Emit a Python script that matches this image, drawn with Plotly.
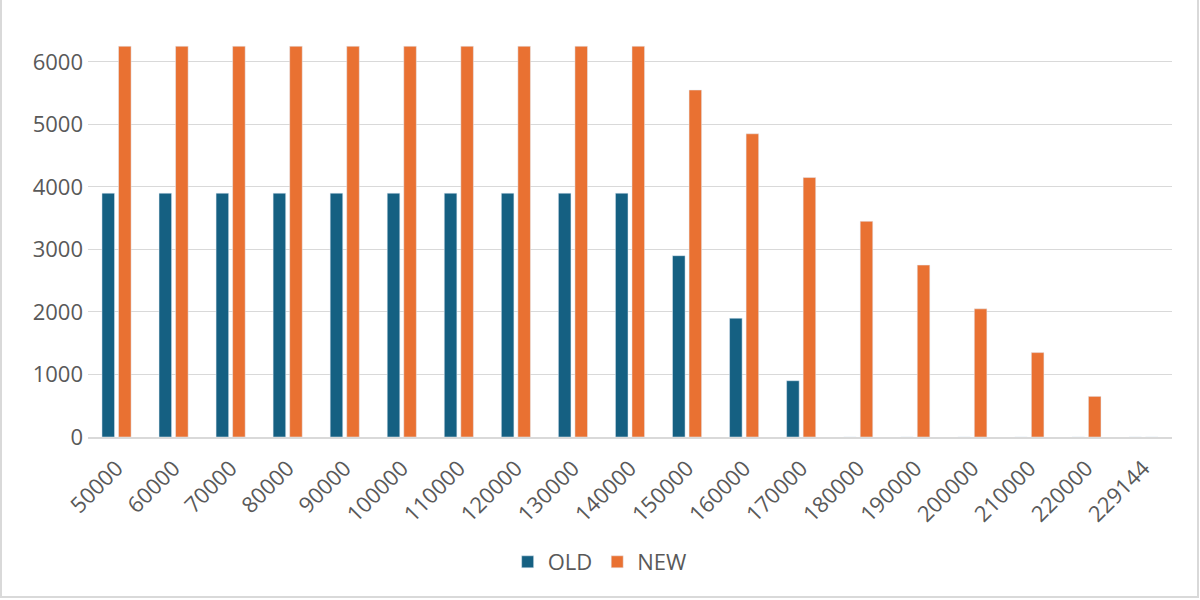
import plotly.graph_objects as go

categories = ["50000", "60000", "70000", "80000", "90000", "100000", "110000", "120000",
              "130000", "140000", "150000", "160000", "170000", "180000", "190000",
              "200000", "210000", "220000", "229144"]
old_values = [3900, 3900, 3900, 3900, 3900, 3900, 3900, 3900, 3900, 3900,
              2900, 1900, 900, 0, 0, 0, 0, 0, 0]
new_values = [6250, 6250, 6250, 6250, 6250, 6250, 6250, 6250, 6250, 6250,
              5550, 4850, 4150, 3450, 2750, 2050, 1350, 650, 0]
y_ticks = [0, 1000, 2000, 3000, 4000, 5000, 6000, 7000]

TEXT = "#595959"
GRID = "#D9D9D9"
FONT = "Open Sans"

fig = go.Figure()
fig.add_trace(go.Bar(name="OLD", x=categories, y=old_values, marker_color="#156082"))
fig.add_trace(go.Bar(name="NEW", x=categories, y=new_values, marker_color="#E97132"))

L, R, T, B = 88, 28, 0, 163
W, H = 1200, 600
pw, ph = W - L - R, H - T - B

fig.update_layout(
    width=W, height=H,
    margin=dict(l=L, r=R, t=T, b=B),
    paper_bgcolor="white", plot_bgcolor="white",
    barmode="group", bargap=0.42, bargroupgap=0.24,
    font=dict(family=FONT, size=22, color=TEXT),
    showlegend=True,
    legend=dict(orientation="h", x=0.472, xanchor="center", y=-(562 - ph) / ph,
                yanchor="middle", font=dict(size=22, color=TEXT)),
    xaxis=dict(type="category", tickangle=-45, showgrid=False, showline=True,
               linecolor=GRID, linewidth=1.5, ticks="", ticklabelstandoff=8,
               tickfont=dict(size=22, color=TEXT)),
    yaxis=dict(range=[0, 6990], tickvals=y_ticks, showgrid=True, gridcolor=GRID,
               gridwidth=1, zeroline=False, showline=False, ticks="",
               ticklabelstandoff=4, tickfont=dict(size=22, color=TEXT)),
)

# chart outer border (light gray frame)
fig.add_shape(type="rect", xref="paper", yref="paper",
              x0=-(L - 1) / pw, x1=(W - L - 2) / pw,
              y0=-(597 - ph) / ph, y1=1 + 20 / ph,
              line=dict(color="#D9D9D9", width=2), fillcolor="rgba(0,0,0,0)", layer="below")

fig.write_html("out.html")
